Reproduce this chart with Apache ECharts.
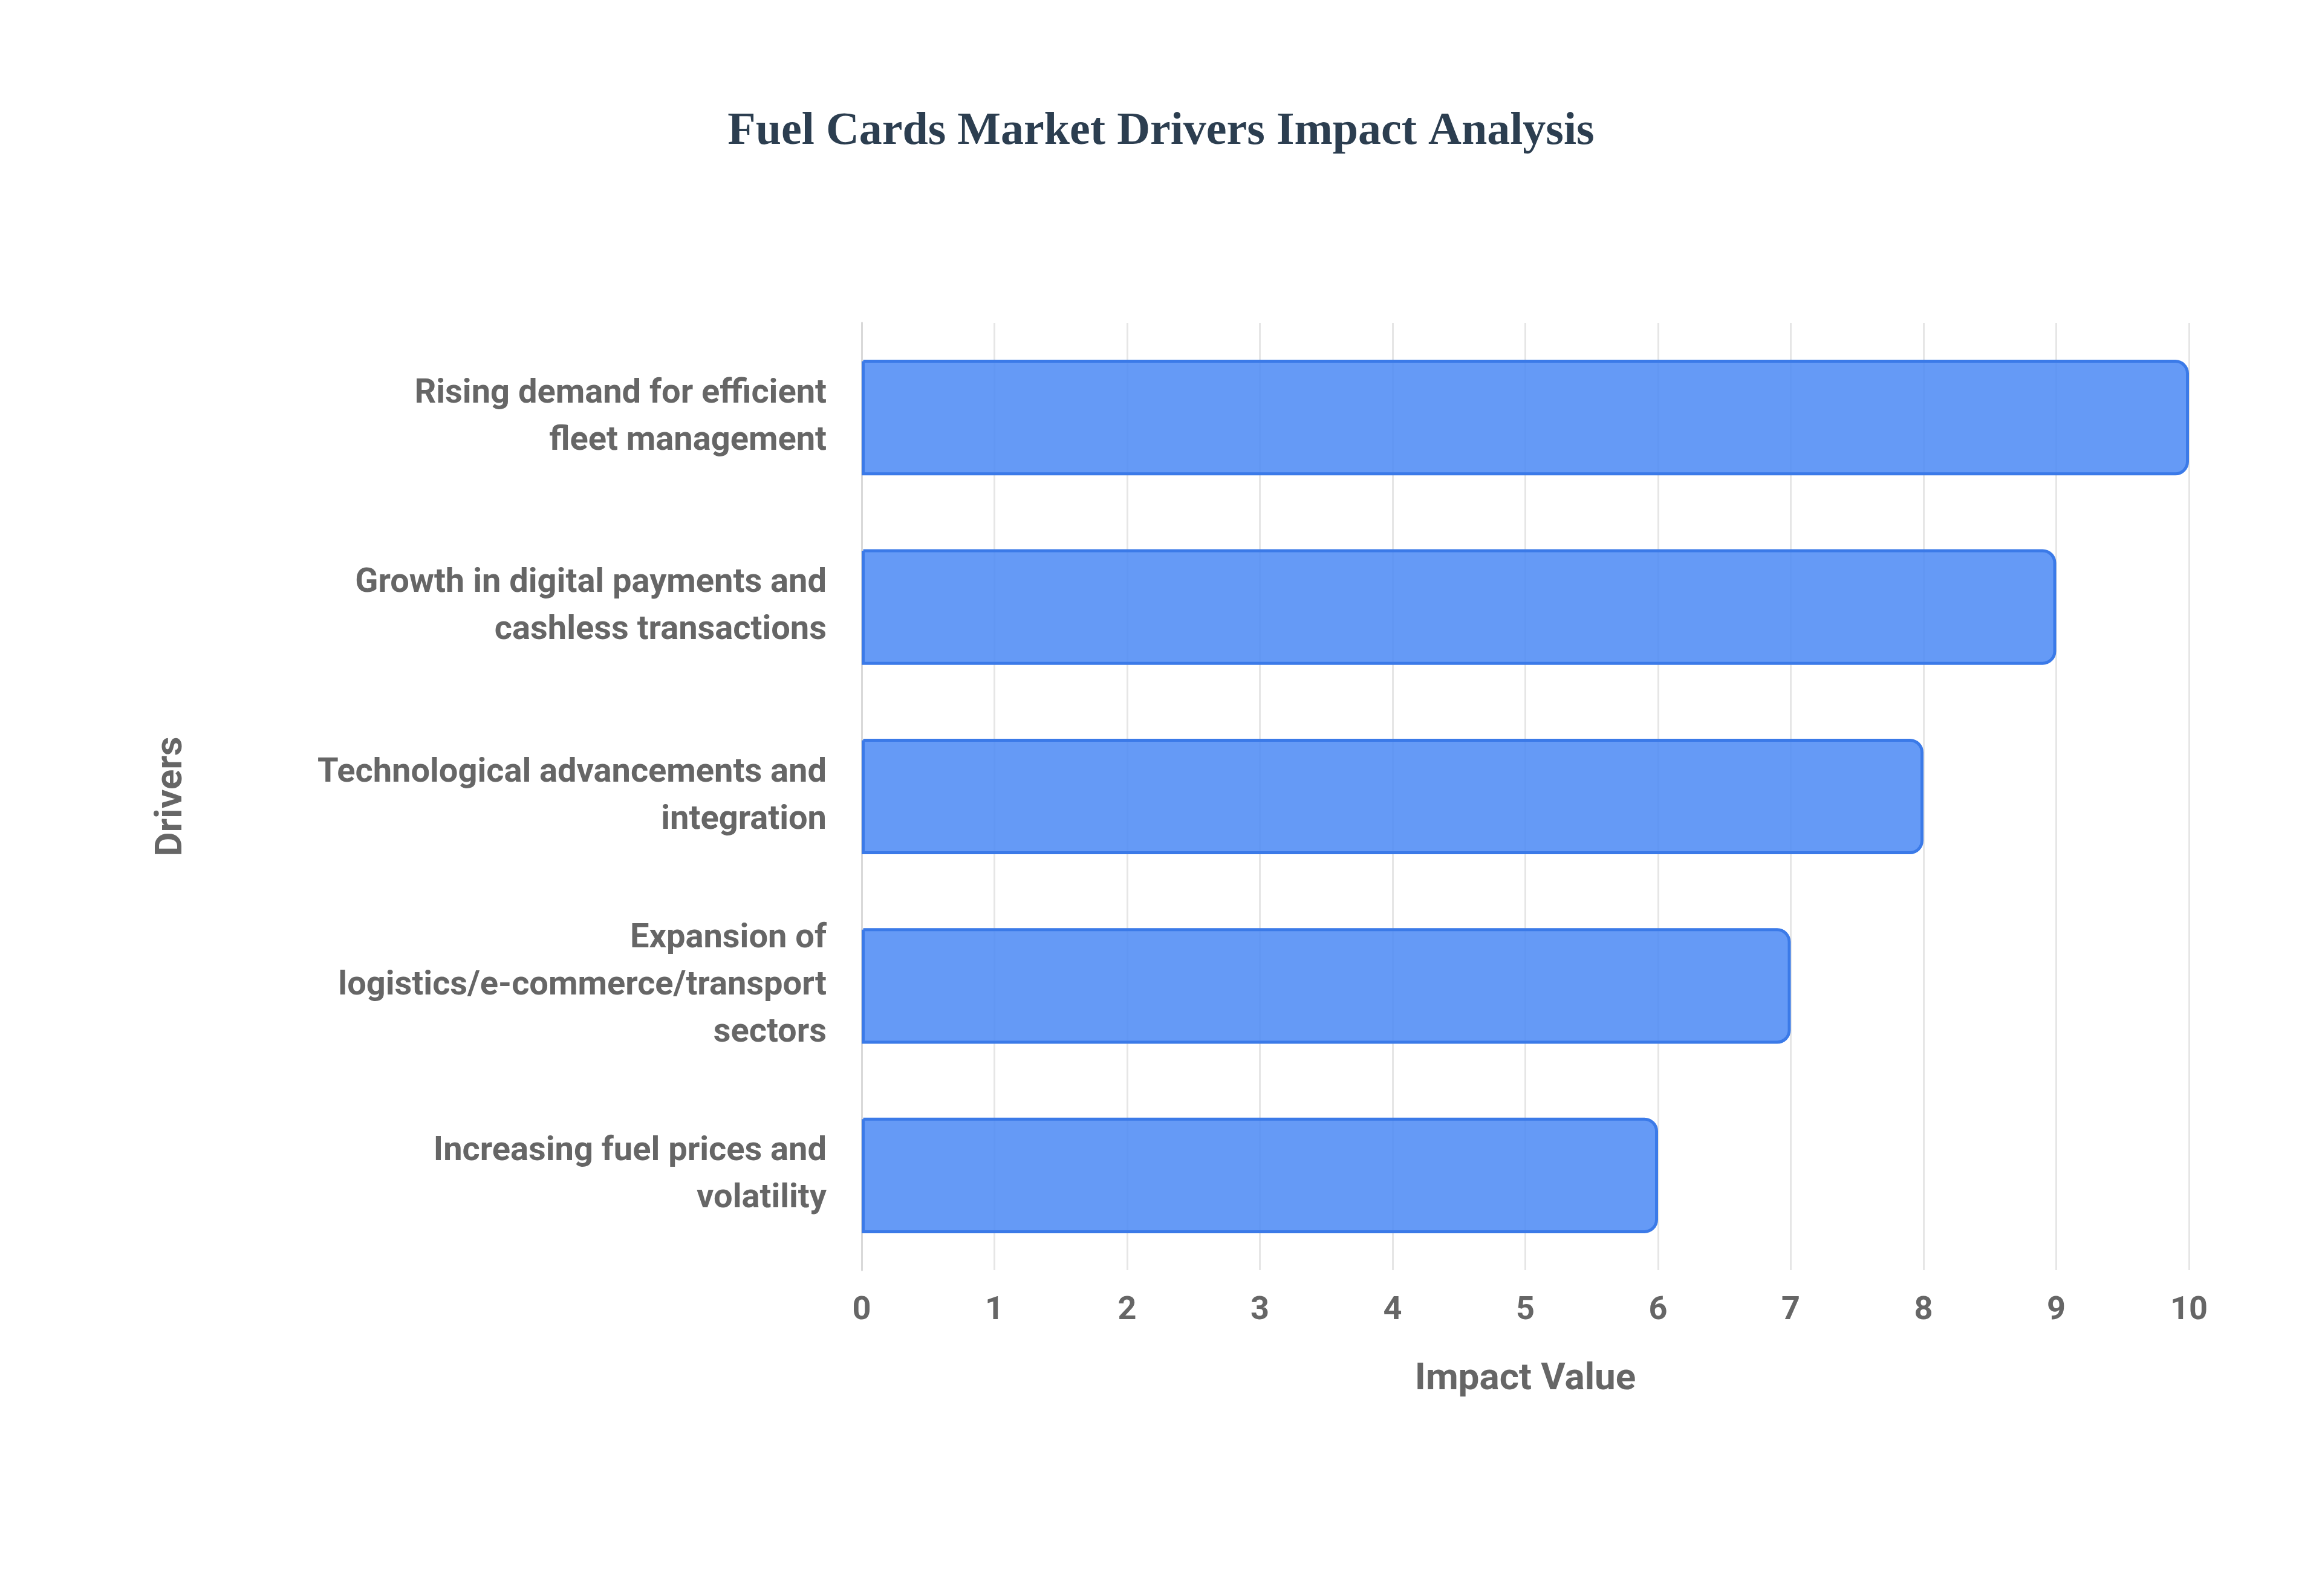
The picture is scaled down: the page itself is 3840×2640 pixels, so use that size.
<!DOCTYPE html>
<html><head><meta charset="utf-8">
<script src="https://cdn.jsdelivr.net/npm/echarts@6/dist/echarts.min.js"></script>
<style>html,body{margin:0;padding:0;background:#fff}#c{width:3840px;height:2640px}</style>
</head><body><div id="c"></div>
<script>
const categories = [
  "Rising demand for efficient\nfleet management",
  "Growth in digital payments and\ncashless transactions",
  "Technological advancements and\nintegration",
  "Expansion of\nlogistics/e-commerce/transport\nsectors",
  "Increasing fuel prices and\nvolatility"
];
const impactValues = [10, 9, 8, 7, 6];
const chart = echarts.init(document.getElementById('c'));
chart.setOption({
  backgroundColor: '#fff',
  title: {
    text: 'Fuel Cards Market Drivers Impact Analysis',
    left: 'center', top: 175,
    textStyle: {fontFamily: 'Liberation Serif', fontWeight: 'bold', fontSize: 76, color: '#2c3e50'}
  },
  grid: {left: 1425, right: 220, top: 534, bottom: 539},
  xAxis: {
    type: 'value', min: 0, max: 10, interval: 1,
    name: 'Impact Value', nameLocation: 'middle', nameGap: 150,
    nameTextStyle: {fontFamily: 'Roboto', fontWeight: 'bold', fontSize: 62, color: '#666'},
    axisLabel: {fontFamily: 'Roboto', fontWeight: 'bold', fontSize: 54, color: '#666', margin: 40},
    axisLine: {show: false}, axisTick: {show: false},
    splitLine: {lineStyle: {color: '#e6e6e6', width: 3}}
  },
  yAxis: {
    type: 'category', data: categories, inverse: true,
    name: 'Drivers', nameLocation: 'middle', nameGap: 1110, nameRotate: 90,
    nameTextStyle: {fontFamily: 'Roboto', fontWeight: 'bold', fontSize: 62, color: '#666'},
    axisLabel: {fontFamily: 'Roboto', fontWeight: 'bold', fontSize: 56, color: '#666', margin: 58, lineHeight: 78, align: 'right'},
    axisLine: {show: true, lineStyle: {color: '#d9d9d9', width: 3}},
    axisTick: {show: false}
  },
  series: [{
    type: 'bar', data: impactValues, barWidth: '61%',
    itemStyle: {color: 'rgba(80,140,245,0.88)', borderColor: '#3b7ae8', borderWidth: 5, borderRadius: [0, 20, 20, 0]}
  }]
});
</script></body></html>
